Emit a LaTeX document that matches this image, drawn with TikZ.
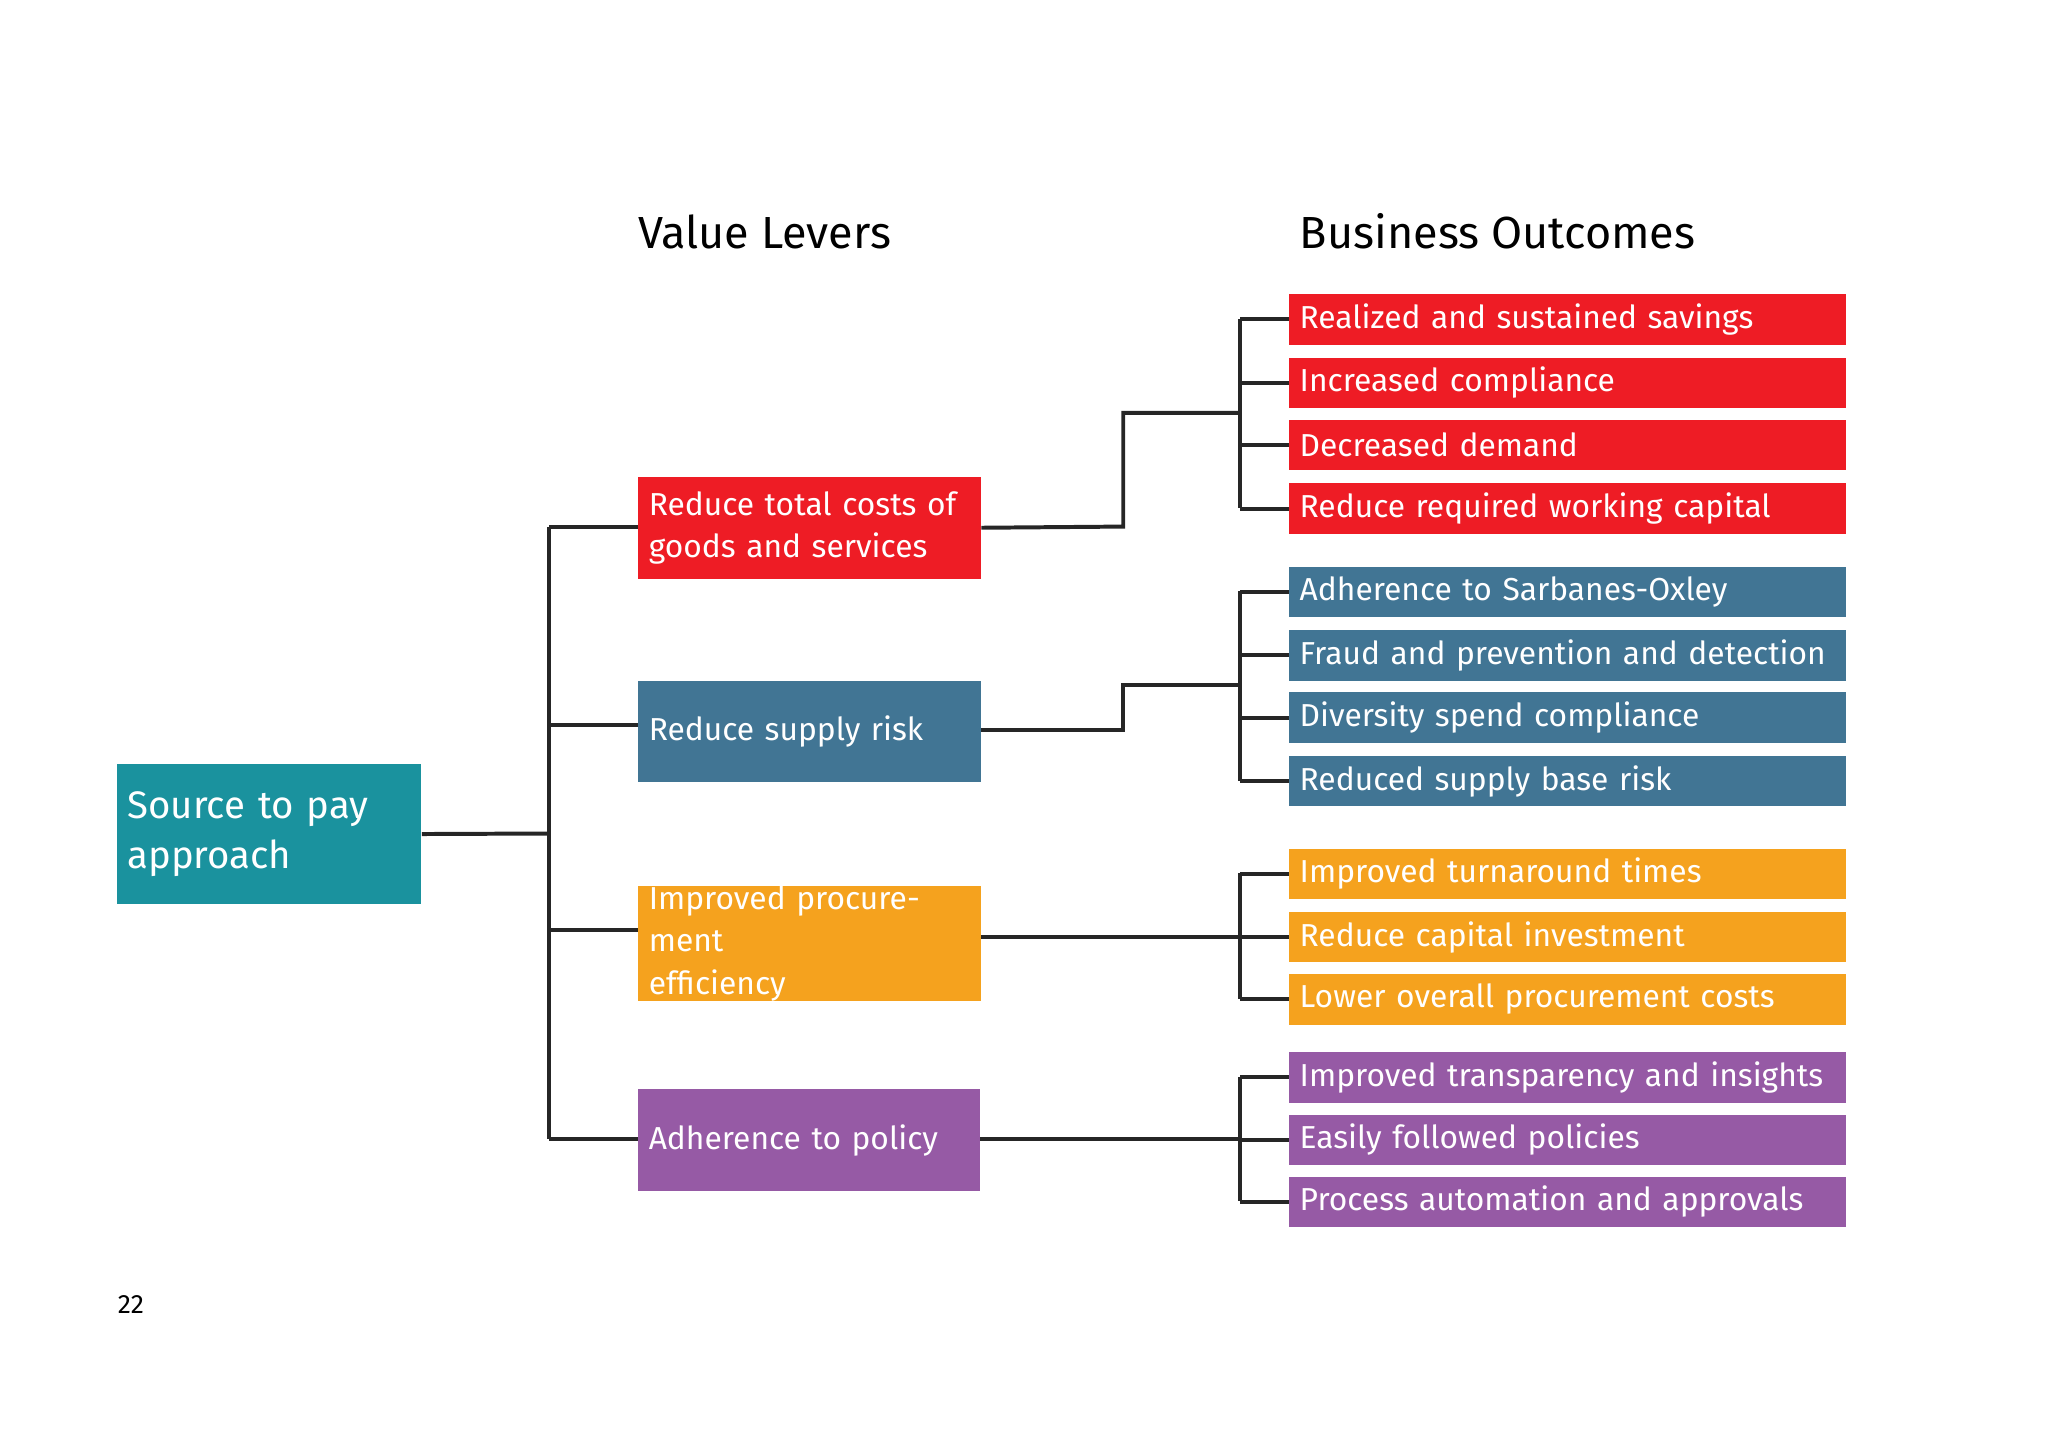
\documentclass[tikz,border=0pt]{standalone}
\usepackage{fontspec}
\setmainfont{Fira Sans}
\definecolor{cteal}{HTML}{1A929E}
\definecolor{cred}{HTML}{EE1C25}
\definecolor{cblue}{HTML}{417594}
\definecolor{corange}{HTML}{F5A21E}
\definecolor{cpurple}{HTML}{965AA5}
\begin{document}
\begin{tikzpicture}[x=0.5pt,y=-0.5pt,
  base/.style={anchor=north west,inner ysep=0pt,inner xsep=4pt,align=left,text=white,font=\fontsize{12}{16}\selectfont},
  outbox/.style={base,text width=202.5pt,minimum height=19pt},
  lev/.style={base,text width=121.5pt,minimum height=38.5pt,font=\fontsize{12}{16}\selectfont},
  ln/.style={line width=1.5pt,draw=black!85}]
\useasboundingbox (0,0) rectangle (1548,1094);
\node[font=\fontsize{17}{20}\selectfont] (t1) at (578,175) {Value Levers};
\node[font=\fontsize{17}{20}\selectfont] (t2) at (1132,175) {Business Outcomes};
\node[base,text width=107pt,minimum height=53pt,fill=cteal,font=\fontsize{14.5}{19}\selectfont] (root) at (88,577) {Source to pay\\approach};
\node[lev,fill=cred] (l1) at (482,360) {Reduce total costs of\\goods and services};
\node[lev,fill=cblue] (l2) at (482,514) {Reduce supply risk};
\node[lev,fill=corange] (l3) at (482,669) {Improved procurement\\efficiency};
\node[lev,fill=cpurple,text width=121pt] (l4) at (482,823) {Adherence to policy};
\foreach \n/\y/\c/\t in {o1/222/cred/Realized and sustained savings,o2/270/cred/Increased compliance,o3/317/cred/Decreased demand,o4/365/cred/Reduce required working capital,
o5/428/cblue/Adherence to Sarbanes-Oxley,o6/476/cblue/Fraud and prevention and detection,o7/523/cblue/Diversity spend compliance,o8/571/cblue/Reduced supply base risk,
o9/641/corange/Improved turnaround times,o10/689/corange/Reduce capital investment,o11/736/corange/Lower overall procurement costs,
o12/795/cpurple/Improved transparency and insights,o13/842/cpurple/Easily followed policies,o14/889/cpurple/Process automation and approvals}
  \node[outbox,fill=\c] (\n) at (974,\y) {\t};
\node[font=\fontsize{10}{12}\selectfont] (pg) at (99,986) {22};
\coordinate (tr) at (415,630);
\draw[ln] (root.east) -- (tr);
\draw[ln] (415,398) -- (415,861);
\draw[ln] (415,398) -- (l1.west|-0,398);
\draw[ln] (415,548) -- (l2.west|-0,548);
\draw[ln] (415,703) -- (l3.west|-0,703);
\draw[ln] (415,861) -- (l4.west|-0,861);
\draw[ln] (l1.east) -- (849,398) -- (849,312) -- (937,312);
\draw[ln] (l2.east|-0,552) -- (849,552) -- (849,518) -- (937,518);
\draw[ln] (l3.east|-0,708) -- (937,708);
\draw[ln] (l4.east|-0,861) -- (937,861);
\draw[ln] (937,241) -- (937,384);
\draw[ln] (937,447) -- (937,590);
\draw[ln] (937,660) -- (937,755);
\draw[ln] (937,814) -- (937,908);
\foreach \n in {o1,o2,o3,o4,o5,o6,o7,o8,o9,o10,o11,o12,o13,o14}
  \draw[ln] (\n.west) -- ++(-37,0);
\end{tikzpicture}
\end{document}
